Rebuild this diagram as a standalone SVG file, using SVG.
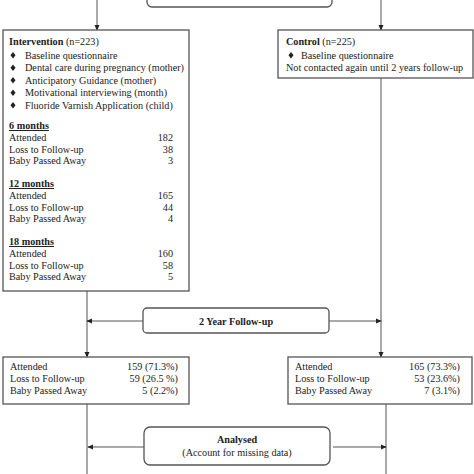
<svg xmlns="http://www.w3.org/2000/svg" width="474" height="474" viewBox="0 0 474 474">
<style>
text{font-family:"Liberation Serif","Times New Roman",serif;font-size:10.2px;fill:#222}
.b{font-weight:bold}
.u{font-weight:bold;text-decoration:underline}
.r{text-anchor:end}
.c{text-anchor:middle}
.box{fill:#fff;stroke:#555;stroke-width:1.3}
.ln{stroke:#555;stroke-width:1;fill:none}
.bl{fill:#222}
</style>
<defs>
<marker id="ah" viewBox="0 0 8 8" refX="7" refY="4" markerWidth="6" markerHeight="6" orient="auto" markerUnits="userSpaceOnUse">
<path d="M0,0.5 L8,4 L0,7.5 Z" fill="#222"/>
</marker>
</defs>
<g id="connectors">
<line class="ln" x1="97" y1="0" x2="97" y2="30" marker-end="url(#ah)"/>
<line class="ln" x1="381" y1="0" x2="381" y2="30" marker-end="url(#ah)"/>
<line class="ln" x1="87" y1="291" x2="87" y2="357" marker-end="url(#ah)"/>
<line class="ln" x1="381" y1="78" x2="381" y2="357" marker-end="url(#ah)"/>
<line class="ln" x1="143" y1="321" x2="87" y2="321" marker-end="url(#ah)"/>
<line class="ln" x1="329" y1="321" x2="381" y2="321" marker-end="url(#ah)"/>
<line class="ln" x1="87" y1="404" x2="87" y2="474"/>
<line class="ln" x1="386" y1="404" x2="386" y2="474"/>
<line class="ln" x1="144" y1="447" x2="88" y2="447" marker-end="url(#ah)"/>
<line class="ln" x1="333" y1="447" x2="386" y2="447" marker-end="url(#ah)"/>
</g>
<g id="top">
<rect class="box" x="147" y="-20" width="185" height="27" rx="5"/>
</g>
<g id="intervention">
<rect class="box" x="3" y="30" width="186" height="261"/>
<text x="9" y="45"><tspan class="b">Intervention</tspan> (n=223)</text>
<g class="bl">
<path d="M13,52 l2.5,3.2 l-2.5,3.2 l-2.5,-3.2 Z"/>
<path d="M13,64.5 l2.5,3.2 l-2.5,3.2 l-2.5,-3.2 Z"/>
<path d="M13,77 l2.5,3.2 l-2.5,3.2 l-2.5,-3.2 Z"/>
<path d="M13,89.5 l2.5,3.2 l-2.5,3.2 l-2.5,-3.2 Z"/>
<path d="M13,102 l2.5,3.2 l-2.5,3.2 l-2.5,-3.2 Z"/>
</g>
<text x="25" y="58.5">Baseline questionnaire</text>
<text x="25" y="71">Dental care during pregnancy (mother)</text>
<text x="25" y="83.5">Anticipatory Guidance (mother)</text>
<text x="25" y="96">Motivational interviewing (month)</text>
<text x="25" y="108.5">Fluoride Varnish Application (child)</text>
<text class="u" x="9" y="129">6 months</text>
<text x="9" y="141">Attended</text><text class="r" x="173" y="141">182</text>
<text x="9" y="152.5">Loss to Follow-up</text><text class="r" x="173" y="152.5">38</text>
<text x="9" y="164">Baby Passed Away</text><text class="r" x="173" y="164">3</text>
<text class="u" x="9" y="187">12 months</text>
<text x="9" y="199">Attended</text><text class="r" x="173" y="199">165</text>
<text x="9" y="210.5">Loss to Follow-up</text><text class="r" x="173" y="210.5">44</text>
<text x="9" y="222">Baby Passed Away</text><text class="r" x="173" y="222">4</text>
<text class="u" x="9" y="245">18 months</text>
<text x="9" y="257">Attended</text><text class="r" x="173" y="257">160</text>
<text x="9" y="268.5">Loss to Follow-up</text><text class="r" x="173" y="268.5">58</text>
<text x="9" y="280">Baby Passed Away</text><text class="r" x="173" y="280">5</text>
</g>
<g id="control">
<rect class="box" x="278" y="30" width="195" height="48"/>
<text x="286" y="45"><tspan class="b">Control</tspan> (n=225)</text>
<path class="bl" d="M291,52 l2.5,3.2 l-2.5,3.2 l-2.5,-3.2 Z"/>
<text x="301" y="58.5">Baseline questionnaire</text>
<text x="286" y="71">Not contacted again until 2 years follow-up</text>
</g>
<g id="followup">
<rect class="box" x="143" y="308" width="186" height="25" rx="4"/>
<text class="b c" x="236" y="324.5">2 Year Follow-up</text>
</g>
<g id="int-result">
<rect class="box" x="3" y="357" width="186" height="47"/>
<text x="10" y="370">Attended</text><text class="r" x="178" y="370">159 (71.3%)</text>
<text x="10" y="382">Loss to Follow-up</text><text class="r" x="178" y="382">59 (26.5 %)</text>
<text x="10" y="394">Baby Passed Away</text><text class="r" x="178" y="394">5 (2.2%)</text>
</g>
<g id="ctl-result">
<rect class="box" x="288" y="357" width="184" height="47"/>
<text x="295" y="370">Attended</text><text class="r" x="460" y="370">165 (73.3%)</text>
<text x="295" y="382">Loss to Follow-up</text><text class="r" x="460" y="382">53 (23.6%)</text>
<text x="295" y="394">Baby Passed Away</text><text class="r" x="460" y="394">7 (3.1%)</text>
</g>
<g id="analysed">
<rect class="box" x="144" y="427" width="186" height="38" rx="6"/>
<text class="b c" x="237" y="443">Analysed</text>
<text class="c" x="237" y="456">(Account for missing data)</text>
</g>
</svg>
